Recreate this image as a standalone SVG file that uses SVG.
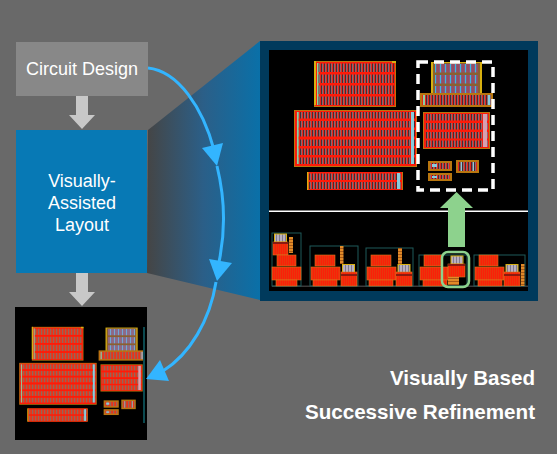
<svg xmlns="http://www.w3.org/2000/svg" width="557" height="454" viewBox="0 0 557 454">
<style>
.t{font-family:"Liberation Sans",Arial,sans-serif;fill:#fff;text-anchor:middle;font-size:18px}
.b{font-family:"Liberation Sans",Arial,sans-serif;fill:#fff;text-anchor:end;font-size:20.6px;font-weight:bold}
.gr{fill:#c8c8c8}
.cv{fill:none;stroke:#33b5ff;stroke-width:3}
.hd{fill:#33b5ff}
.fr{fill:#ff1a08}
.o{fill:#b8760f}
.y{fill:#d8b010}
.r{fill:var(--r,url(#cell))}
.p{fill:var(--p,url(#pcell))}
.m{fill:url(#mos);stroke:#d87a20;stroke-width:.6}
.s{fill:url(#strip)}
.g{fill:url(#gate);stroke:#d8b010;stroke-width:1}
.tl{fill:none;stroke:#1f5a5a;stroke-width:1}
.cap{fill:#8fd0a0}
.cy{fill:#88ccdd}
</style>
<defs>
<linearGradient id="fan" x1="147" x2="260" y1="0" y2="0" gradientUnits="userSpaceOnUse"><stop offset="0" stop-color="#454545"/><stop offset=".5" stop-color="#2b5f88"/><stop offset="1" stop-color="#0a70a8"/></linearGradient>
<pattern id="cell" width="3" height="4" patternUnits="userSpaceOnUse"><rect width="3" height="4" fill="#e8251a"/><rect width="1" height="4" fill="#4a2830"/><rect x="1" width="1" height="4" fill="#8a6a70"/></pattern>
<pattern id="cell2" width="4.762" height="5" patternUnits="userSpaceOnUse"><rect width="4.762" height="5" fill="#e8351a"/><rect width="1.6" height="5" fill="#8a6a60"/></pattern>
<pattern id="pcell" width="5" height="4" patternUnits="userSpaceOnUse"><rect width="5" height="4" fill="#8c5a78"/><rect width="1" height="4" fill="#38b8e8"/><rect x="2.500" width="1" height="4" fill="#a04050"/></pattern>
<pattern id="pcell2" width="6.349" height="4" patternUnits="userSpaceOnUse"><rect width="6.349" height="4" fill="#8c6a88"/><rect width="1.6" height="4" fill="#70a8d8"/></pattern>
<pattern id="mos" width="2" height="2" patternUnits="userSpaceOnUse"><rect width="2" height="2" fill="#fa2008"/><rect width=".5" height="2" fill="#d84a10"/></pattern>
<pattern id="strip" width="4" height="3" patternUnits="userSpaceOnUse"><rect width="4" height="3" fill="#e08a28"/><rect y="2" width="4" height="1" fill="#a85a18"/></pattern>
<pattern id="gate" width="3" height="3" patternUnits="userSpaceOnUse"><rect width="3" height="3" fill="#b8b0c0"/><rect width="1" height="3" fill="#807c90"/></pattern>
<g id="layout">
<rect class="o" x="314" y="61" width="82" height="46"/>
<rect class="fr" x="315" y="62" width="80" height="44"/>
<rect class="r" x="317" y="63.500" width="77" height="8.500"/><rect class="r" x="317" y="74.500" width="77" height="8.500"/><rect class="r" x="317" y="85.500" width="77" height="8.500"/><rect class="r" x="317" y="96.500" width="77" height="8.500"/>
<rect class="y" x="314" y="61" width="2" height="44"/><rect class="cap" x="317" y="63" width="1.500" height="42"/><rect class="y" x="392" y="61" width="4" height="2"/>
<rect class="o" x="294" y="110" width="123" height="57"/>
<rect class="fr" x="295" y="111" width="121" height="55"/>
<rect class="r" x="296" y="112" width="119" height="6.500"/><rect class="r" x="296" y="121" width="119" height="6.500"/><rect class="r" x="296" y="130" width="119" height="6.500"/><rect class="r" x="296" y="139.500" width="119" height="6.500"/><rect class="r" x="296" y="148.500" width="119" height="6.500"/><rect class="r" x="296" y="157.500" width="119" height="6.500"/>
<rect class="cy" x="411" y="112" width="3" height="52"/><rect class="cap" x="297" y="112" width="1.500" height="52"/>
<rect class="o" x="307" y="172" width="96" height="18"/>
<rect class="fr" x="308" y="172" width="94" height="18"/>
<rect class="r" x="309" y="173.500" width="92" height="6.500"/><rect class="r" x="309" y="182" width="92" height="7"/>
<rect class="y" x="307" y="172" width="1.500" height="18"/><rect class="cy" x="397" y="173" width="3" height="16"/>
<rect class="y" x="431" y="62" width="51" height="33"/>
<rect fill="#8a6030" x="433" y="63" width="47" height="31"/>
<rect class="p" x="435" y="64" width="43" height="8.500"/><rect class="p" x="435" y="75" width="43" height="8.500"/><rect class="p" x="435" y="86" width="43" height="8.500"/>
<rect class="o" x="420" y="93" width="73" height="14"/>
<rect class="r" x="422" y="95" width="69" height="10"/>
<rect class="cap" x="423" y="95" width="2" height="10"/><rect class="cy" x="488" y="95" width="2" height="10"/>
<rect class="o" x="423" y="112" width="67" height="37"/>
<rect class="fr" x="424" y="113" width="65" height="35"/>
<rect class="r" x="425" y="114" width="63" height="6.500"/><rect class="r" x="425" y="123" width="63" height="6.500"/><rect class="r" x="425" y="132" width="63" height="6.500"/><rect class="r" x="425" y="140.500" width="63" height="6.500"/>
<rect fill="#d8a0b0" x="483" y="114" width="4" height="33"/>
<rect class="o" x="428" y="161" width="24" height="10"/><rect class="r" x="430" y="163" width="20" height="6"/><rect class="cy" x="432" y="164" width="5" height="3"/>
<rect class="o" x="456" y="160" width="23" height="13"/><rect class="r" x="458" y="162" width="19" height="9"/><rect class="cy" x="461" y="162" width="1" height="9"/><rect class="cy" x="473" y="162" width="1" height="9"/>
<rect class="o" x="428" y="173" width="24" height="8"/><rect class="r" x="430" y="175" width="20" height="4"/><rect class="cy" x="432" y="176" width="5" height="2"/>
</g>
</defs>
<rect width="557" height="454" fill="#696969"/>
<path d="M148,130 L260,41 L260,300 L147,273 Z" fill="url(#fan)"/>
<g id="connectors">
<path class="gr" d="M76,96H88V115H95L82,129L69,115H76Z"/>
<path class="gr" d="M76,273H88V292H95L82,306L69,292H76Z"/>
</g>
<g id="circuit-design"><rect x="16" y="42" width="132" height="54" fill="#888"/><text class="t" x="82" y="75">Circuit Design</text></g>
<g id="visually-assisted-layout"><rect x="16" y="130" width="131" height="143" fill="#0779b5"/>
<text class="t" x="82" y="187">Visually-</text><text class="t" x="82" y="209">Assisted</text><text class="t" x="82" y="231">Layout</text></g>
<g id="detail-panel">
<rect x="260" y="41" width="278" height="260" fill="#003a5c"/>
<rect x="269" y="50" width="259" height="241" fill="#000"/>
<use href="#layout"/>
<rect x="418" y="62" width="75" height="128" fill="none" stroke="#fff" stroke-width="3.500" stroke-dasharray="10 6"/>
<rect x="269" y="210.500" width="259" height="1.500" fill="#fff"/>
<rect x="272" y="285.500" width="256" height="1.500" fill="#3a3a3a"/>
<g id="cell-1"><rect class="tl" x="272" y="233" width="29" height="53"/><rect class="g" x="274.500" y="234" width="12" height="8"/><rect class="m" x="273" y="242" width="15" height="13"/><rect fill="#8a1a10" x="273" y="242" width="15" height="2"/><rect class="s" x="289" y="237" width="4" height="16"/><rect class="m" x="277" y="255" width="19" height="11"/><rect class="m" x="272" y="267" width="29" height="13"/><rect class="m" x="276" y="280" width="21" height="6"/></g>
<g id="cell-2"><rect class="tl" x="310" y="246" width="48" height="40"/><rect class="m" x="315" y="255" width="20" height="11"/><rect class="m" x="311" y="267" width="29" height="13"/><rect class="m" x="313" y="280" width="24" height="6"/><rect class="s" x="340" y="246" width="3.500" height="18"/><rect class="g" x="342.500" y="264.500" width="12" height="8"/><rect class="m" x="341" y="272" width="16" height="14"/><rect fill="#8a1a10" x="341" y="274" width="16" height="2"/></g>
<g id="cell-3"><rect class="tl" x="366" y="248" width="47" height="38"/><rect class="m" x="371" y="255" width="20" height="11"/><rect class="m" x="367" y="267" width="29" height="13"/><rect class="m" x="369" y="280" width="24" height="6"/><rect class="s" x="398" y="248" width="4" height="16"/><rect class="g" x="398" y="264.500" width="12" height="8"/><rect class="m" x="396" y="272" width="16" height="14"/><rect fill="#8a1a10" x="396" y="274" width="16" height="2"/></g>
<g id="cell-4"><rect class="tl" x="419" y="255" width="48" height="31"/><rect class="m" x="424" y="255" width="18" height="11"/><rect class="m" x="420" y="267" width="28" height="13"/><rect class="m" x="423" y="280" width="24" height="6"/><rect class="g" x="451" y="256" width="12" height="8"/><rect class="m" x="448" y="264" width="17" height="13"/><rect fill="#8a1a10" x="448" y="264" width="17" height="2"/><rect class="s" x="448" y="277" width="11" height="8"/></g>
<g id="cell-5"><rect class="tl" x="474" y="255" width="51" height="31"/><rect class="m" x="479" y="255" width="19" height="11"/><rect class="m" x="475" y="267" width="29" height="13"/><rect class="m" x="478" y="280" width="24" height="6"/><rect class="g" x="506" y="264.500" width="12" height="8"/><rect class="m" x="504" y="272" width="16" height="14"/><rect fill="#8a1a10" x="504" y="274" width="16" height="2"/><rect class="s" x="521" y="264" width="3.500" height="22"/></g>
<path d="M448,247V208H440L456.500,192L473,208H465V247Z" fill="#8dd28d"/>
<rect x="442" y="252" width="27" height="35" rx="6" fill="none" stroke="#8dd28d" stroke-width="2.500"/>
</g>
<g id="result-layout">
<rect x="15" y="307" width="132" height="133" fill="#000"/>
<use href="#layout" style="--r:url(#cell2);--p:url(#pcell2)" transform="translate(-166 282) scale(.63 .735)"/>
<rect x="143" y="327" width="2" height="96" fill="#0c4a50"/>
</g>
<g id="refinement-arrows">
<path class="cv" d="M148,68C178,71 203,108 214,150"/>
<path class="hd" d="M202,148L223,143L217,166Z"/>
<path class="cv" d="M217,166Q229,215 219,262"/>
<path class="hd" d="M209,259L232,263L217,281Z"/>
<path class="cv" d="M216,282C210,320 190,354 163,371"/>
<path class="hd" d="M146,379L160,360L169,381Z"/>
</g>
<g id="caption"><text class="b" x="535" y="385">Visually Based</text><text class="b" x="535" y="419">Successive Refinement</text></g>
</svg>
